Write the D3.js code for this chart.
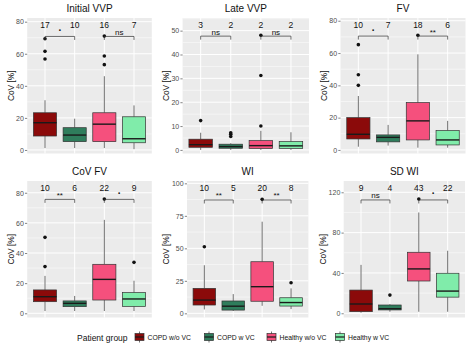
<!DOCTYPE html>
<html><head><meta charset="utf-8">
<script src="https://cdn.jsdelivr.net/npm/d3@7"></script>
<style>body{margin:0;background:#fff}svg{display:block;font-family:"Liberation Sans",Arial,sans-serif}</style>
</head><body>
<svg id="c" width="474" height="348"></svg>
<script>
// ---------------- DATA ----------------
const groups = ["COPD w/o VC", "COPD w VC", "Healthy w/o VC", "Healthy w VC"];
const groupColors = ["#8B0A0A", "#2F7D5C", "#F5507D", "#80ECAA"];
const panelTitles = ["Initial VVP", "Late VVP", "FV", "CoV FV", "WI", "SD WI"];
const yTickValues = [
  [0, 20, 40, 60, 80],
  [0, 10, 20, 30, 40, 50],
  [0, 20, 40, 60, 80],
  [0, 20, 40, 60, 80],
  [0, 25, 50, 75, 100],
  [0, 40, 80, 120]
];
// box stats per group: [lower whisker, Q1, median, Q3, upper whisker]
const initialVVP = [[1.2, 8.7, 17, 23.2, 31], [1.2, 5.2, 9.3, 13.9, 19.5], [1.2, 5.2, 16.1, 23.2, 46], [0.5, 4.5, 7, 20.7, 27.8]];
const lateVVP    = [[0, 1.1, 2.2, 4.5, 7.2], [0, 0.7, 1.4, 2.4, 2.8], [0, 0.6, 1.8, 3.9, 8], [0, 0.6, 1.7, 3.5, 7.4]];
const fv         = [[2, 6.8, 9.7, 20, 33.4], [2.7, 5, 7.8, 9.3, 15.5], [1.4, 6.2, 18, 29.3, 59.2], [1.4, 3.1, 6.2, 12, 18]];
const covFV      = [[1.5, 7.7, 11, 15.5, 24.8], [1.5, 4.4, 6.6, 8.2, 11.5], [1.5, 8.8, 22.5, 32.5, 62], [1.5, 4.6, 9.5, 13.7, 21.6]];
const wi         = [[3, 6.4, 10.2, 19.2, 37], [1.8, 2.5, 5.5, 9.5, 14.8], [5.8, 9.3, 20.5, 39.7, 70.5], [3.3, 5.6, 8.3, 12, 19.2]];
const sdWI       = [[0.5, 1.6, 9.2, 23, 48], [1.5, 3.3, 4.5, 8.2, 9], [1.5, 32, 44, 60.5, 100], [1.5, 16, 22, 39.7, 62]];
const boxStats = [initialVVP, lateVVP, fv, covFV, wi, sdWI];
// outliers per group
const outliers = [
  [[56.7, 61.5, 69.4], [], [53.2, 58.6, 71], []],
  [[12.3], [5.6, 6.6, 7.2], [10, 31.2, 48.1], []],
  [[40, 46.6, 65.2], [], [71], []],
  [[31, 50.4], [], [75.8], [33.8]],
  [[51.2], [], [87.7], [23.5]],
  [[], [18], [113.4], []]
];
const counts = [[17, 10, 16, 7], [3, 2, 2, 2], [10, 7, 18, 6], [10, 6, 22, 9], [10, 5, 20, 8], [9, 4, 43, 22]];
const sigLabels = [[".", "ns"], ["ns", "ns"], [".", "**"], ["**", "."], ["**", "**"], ["ns", "."]];
const bracketY = [70.8, 47.7, 70.5, 75.6, 87.2, 112.4];
const countY = [75.9, 51, 75.3, 81.4, 94.3, 121.6];
const yDomains = [[-2.2, 82.3], [-1.5, 55.3], [-2.2, 81.7], [-2.8, 87.8], [-3.2, 101.8], [-4.2, 131.2]];

// ---------------- LAYOUT ----------------
const layout = [
  {x0: 27.2, x1: 151.8, y0: 18, y1: 153.5},
  {x0: 182.6, x1: 309, y0: 18, y1: 153.5},
  {x0: 340.5, x1: 465.5, y0: 18, y1: 153.5},
  {x0: 27.2, x1: 151.8, y0: 181, y1: 317.5},
  {x0: 187, x1: 308.4, y0: 181, y1: 317.5},
  {x0: 343.7, x1: 465, y0: 181, y1: 317.5}
];

const svg = d3.select("#c");

layout.forEach((L, p) => {
  const g = svg.append("g");
  const x = d3.scalePoint().domain(groups).range([L.x0, L.x1]).padding(0.6);
  const y = d3.scaleLinear().domain(yDomains[p]).range([L.y1, L.y0]);
  const bw = x.step() * 0.78;

  g.append("rect").attr("x", L.x0).attr("y", L.y0).attr("width", L.x1 - L.x0).attr("height", L.y1 - L.y0).attr("fill", "#EBEBEB");
  const ticks = yTickValues[p];
  const stepT = ticks[1] - ticks[0];
  const minor = [];
  for (let v = ticks[0] - stepT / 2; v <= yDomains[p][1]; v += stepT) if (v >= yDomains[p][0]) minor.push(v);
  g.selectAll(".mn").data(minor).join("line").attr("x1", L.x0).attr("x2", L.x1)
    .attr("y1", d => y(d)).attr("y2", d => y(d)).attr("stroke", "#fff").attr("stroke-width", 0.5);
  g.selectAll(".mj").data(ticks).join("line").attr("x1", L.x0).attr("x2", L.x1)
    .attr("y1", d => y(d)).attr("y2", d => y(d)).attr("stroke", "#fff").attr("stroke-width", 1);
  g.selectAll(".vx").data(groups).join("line").attr("x1", d => x(d)).attr("x2", d => x(d))
    .attr("y1", L.y0).attr("y2", L.y1).attr("stroke", "#fff").attr("stroke-width", 1);

  const ax = g.append("g").attr("transform", `translate(${L.x0},0)`)
    .call(d3.axisLeft(y).tickValues(ticks).tickSize(2.2).tickPadding(1.2).tickFormat(d3.format("d")));
  ax.select(".domain").remove();
  ax.selectAll(".tick line").attr("stroke", "#333").attr("stroke-width", 0.6);
  ax.selectAll(".tick text").attr("fill", "#4D4D4D").attr("font-size", 7).attr("font-family", "Liberation Sans, Arial, sans-serif");
  const axBox = ax.node().getBBox();
  const axLeft = L.x0 + axBox.x;
  g.append("text").attr("transform", `translate(${axLeft - 2.5},${(L.y0 + L.y1) / 2}) rotate(-90)`)
    .attr("text-anchor", "middle").attr("font-size", 8.4).attr("fill", "#111").text("CoV [%]");

  g.append("text").attr("x", (L.x0 + L.x1) / 2).attr("y", L.y0 - 6).attr("text-anchor", "middle")
    .attr("font-size", 10).attr("fill", "#111").text(panelTitles[p]);

  const st = boxStats[p];
  groups.forEach((grp, i) => {
    const s = st[i], cx = x(grp);
    g.append("line").attr("x1", cx).attr("x2", cx).attr("y1", y(s[3])).attr("y2", y(s[4])).attr("stroke", "#333").attr("stroke-width", 0.7);
    g.append("line").attr("x1", cx).attr("x2", cx).attr("y1", y(s[1])).attr("y2", y(s[0])).attr("stroke", "#333").attr("stroke-width", 0.7);
    g.append("rect").attr("x", cx - bw / 2).attr("width", bw).attr("y", y(s[3])).attr("height", Math.max(0.5, y(s[1]) - y(s[3])))
      .attr("fill", groupColors[i]).attr("stroke", "#333").attr("stroke-width", 0.7);
    g.append("line").attr("x1", cx - bw / 2).attr("x2", cx + bw / 2).attr("y1", y(s[2])).attr("y2", y(s[2])).attr("stroke", "#1a1a1a").attr("stroke-width", 1.4);
    g.selectAll(null).data(outliers[p][i]).join("circle").attr("cx", cx).attr("cy", d => y(d)).attr("r", 1.8).attr("fill", "#111");
    g.append("text").attr("x", cx).attr("y", y(countY[p])).attr("text-anchor", "middle").attr("font-size", 8.5).attr("fill", "#111").text(counts[p][i]);
  });

  [[0, 1], [2, 3]].forEach((pair, k) => {
    const xa = x(groups[pair[0]]), xb = x(groups[pair[1]]), yb = y(bracketY[p]);
    g.append("path").attr("d", `M${xa},${yb + 3.5}V${yb}H${xb}V${yb + 3.5}`).attr("fill", "none").attr("stroke", "#333").attr("stroke-width", 0.7);
    const lab = sigLabels[p][k];
    const isDot = lab === ".";
    g.append("text").attr("x", (xa + xb) / 2).attr("y", yb - 1.5 - (isDot ? 4 : 0)).attr("text-anchor", "middle")
      .attr("font-size", isDot ? 10 : 8).attr("font-weight", isDot ? "bold" : "normal").attr("fill", "#111").text(lab);
  });
});

// ---------------- LEGEND ----------------
const leg = svg.append("g");
leg.append("text").attr("x", 77).attr("y", 340.5).attr("font-size", 8.5).attr("fill", "#111").text("Patient group");
const keyX = [139.5, 209, 271.5, 340];
groups.forEach((grp, i) => {
  const cx = keyX[i], cy = 337;
  leg.append("line").attr("x1", cx).attr("x2", cx).attr("y1", cy - 5.5).attr("y2", cy + 5.5).attr("stroke", "#333").attr("stroke-width", 0.7);
  leg.append("rect").attr("x", cx - 4.5).attr("y", cy - 3.5).attr("width", 9).attr("height", 7).attr("fill", groupColors[i]).attr("stroke", "#333").attr("stroke-width", 0.7);
  leg.append("line").attr("x1", cx - 4.5).attr("x2", cx + 4.5).attr("y1", cy).attr("y2", cy).attr("stroke", "#1a1a1a").attr("stroke-width", 1.2);
  leg.append("text").attr("x", cx + 8).attr("y", 340).attr("font-size", 6.8).attr("fill", "#111").text(grp);
});
</script>
</body></html>
